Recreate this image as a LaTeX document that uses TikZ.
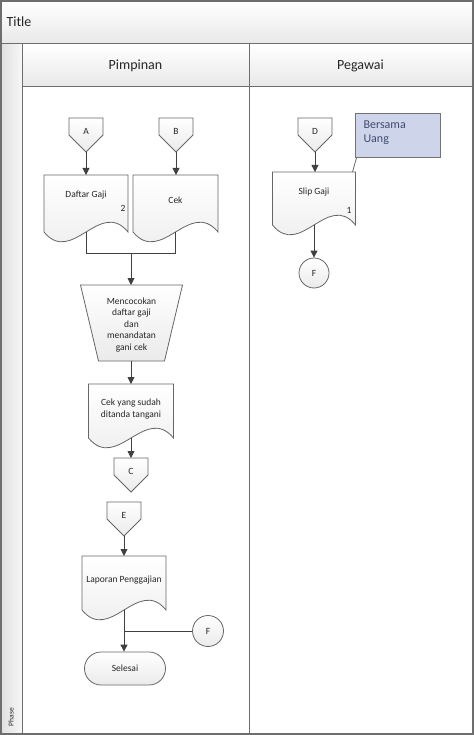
\documentclass[tikz,border=0pt]{standalone}
\usepackage{fontspec}
\setmainfont{Carlito}
\usetikzlibrary{arrows.meta,calc}
\definecolor{notefill}{RGB}{206,212,234}
\definecolor{notetext}{RGB}{62,76,108}
\definecolor{frame}{RGB}{110,110,110}
\tikzset{
  ln/.style={draw=black!60, line width=0.8pt},
  sh/.style={draw=black!60, line width=0.8pt, top color=white, bottom color=black!8},
  arr/.style={draw=black!75, line width=0.9pt, -{Triangle[width=7pt,length=7pt]}},
  con/.style={draw=black!75, line width=0.9pt},
  box/.style={inner sep=0pt, outer sep=0pt, draw=none},
  txt/.style={font=\fontsize{9.5}{11.5}\selectfont, align=center, text=black!85},
  hdr/.style={font=\fontsize{14}{16}\selectfont, text=black!85},
}
\newcommand\offpg[3]{%
  \node[box,minimum width=34pt,minimum height=26pt] (#1) at (#2) {};
  \path[sh] (#1.north west) -- (#1.north east) -- ([yshift=-4pt]#1.east)
     -- ([yshift=-8pt]#1.south) -- ([yshift=-4pt]#1.west) -- cycle;
  \coordinate (#1p) at ([yshift=-8pt]#1.south);
  \node[txt] (#1t) at (#1) {#3};}
\newcommand\docshp[4]{%
  \node[box,minimum width=#3,minimum height=#4] (#1) at (#2) {};
  \path[sh] (#1.north west) -- (#1.north east) -- ([yshift=10pt]#1.south east)
    .. controls ($([yshift=44pt]#1.south east)!0.333!([yshift=44pt]#1.south west)$)
    and ($([yshift=-24pt]#1.south east)!0.667!([yshift=-24pt]#1.south west)$)
    .. ([yshift=10pt]#1.south west) -- cycle;
  \coordinate (#1b) at ([yshift=10pt]#1.south);}
\begin{document}
\begin{tikzpicture}[x=1pt,y=-1pt]
\useasboundingbox (0,0) rectangle (474,735);
% ---------- frame ----------
\path[top color=white,bottom color=black!9] (1,1) rectangle (472,44);
\node[hdr,anchor=west] (title) at (3,22) {Title};
\path[left color=black!12,right color=black!3] (1,44) rectangle (22.5,734);
\node[rotate=90,font=\fontsize{7.5}{9}\selectfont,text=black!85] (phase) at (11,717) {Phase};
\path[top color=white,bottom color=black!9] (22.5,44) rectangle (472,87);
\node[hdr] (lane1) at (135.5,66) {Pimpinan};
\node[hdr] (lane2) at (360.5,66) {Pegawai};
\draw[frame,line width=1pt] (1,44) -- (472,44);
\draw[frame,line width=1pt] (22.5,87) -- (472,87);
\draw[frame,line width=1pt] (22.5,44) -- (22.5,734);
\draw[frame,line width=1pt] (249,44) -- (249,734);
\draw[frame,line width=2.5pt] (1.2,0.5) rectangle (472.8,734.5);
% ---------- Pimpinan lane ----------
\offpg{A}{86,131}{A}
\offpg{B}{176,131}{B}
\docshp{dg}{86,208.5}{84pt}{67pt}
\node[txt] (dgt) at (86,195) {Daftar Gaji};
\node[txt] (dgn) at (123,208) {2};
\docshp{ck}{175.5,208.5}{85pt}{67pt}
\node[txt] (ckt) at (175.5,200) {Cek};
\draw[arr] (Ap) -- (Ap |- dg.north);
\draw[arr] (Bp) -- (Bp |- ck.north);
\coordinate (m) at (131,253);
\draw[con] (dgb) |- (m);
\draw[con] (ckb) |- (m);
\node[box,minimum width=102pt,minimum height=76pt] (tr) at (131.5,323) {};
\path[sh] (tr.north west) -- (tr.north east) -- ([xshift=-18pt]tr.south east)
   -- ([xshift=18pt]tr.south west) -- cycle;
\node[txt] (trt) at (131.5,325) {Mencocokan\\daftar gaji\\dan\\menandatan\\gani cek};
\draw[arr] (m) -- (m |- tr.north);
\docshp{cs}{131,416}{85pt}{64pt}
\node[txt] (cst) at (131,409) {Cek yang sudah\\ditanda tangani};
\draw[arr] (m |- tr.south) -- (m |- cs.north);
\offpg{C}{131,471}{C}
\draw[arr] (csb) -- (csb |- C.north);
\offpg{E}{124,515}{E}
\docshp{lp}{124,588}{84pt}{64pt}
\node[txt] (lpt) at (124,580) {Laporan Penggajian};
\draw[arr] (Ep) -- (Ep |- lp.north);
\node[sh,minimum width=81pt,minimum height=33pt,rounded corners=16.5pt,inner sep=0pt] (sel) at (125,668.5) {};
\node[txt] (selt) at (sel) {Selesai};
\draw[arr] (lpb) -- (lpb |- sel.north);
\node[sh,circle,minimum size=31pt,inner sep=0pt] (F2) at (208,631) {};
\node[txt] (F2t) at (F2) {F};
\draw[con] (F2.west) -- (F2.west -| lpb);
% ---------- Pegawai lane ----------
\offpg{D}{315,131}{D}
\docshp{sg}{314,203.5}{83pt}{63pt}
\node[txt] (sgt) at (314,192) {Slip Gaji};
\node[txt] (sgn) at (349,210) {1};
\draw[arr] (Dp) -- (Dp |- sg.north);
\node[sh,circle,minimum size=30pt,inner sep=0pt] (F1) at (314,273) {};
\node[txt] (F1t) at (F1) {F};
\draw[arr] (sgb) -- (sgb |- F1.north);
\node[draw=black!55,line width=0.8pt,fill=notefill,minimum width=85pt,minimum height=44pt,inner sep=0pt] (note) at (397.5,135) {};
\node[anchor=north west,align=left,font=\fontsize{12}{14}\selectfont,text=notetext] (notet) at (360,117) {Bersama\\Uang};
\draw[ln] ([xshift=2pt]note.south west) -- ([xshift=-3pt]sg.north east);
\end{tikzpicture}
\end{document}
